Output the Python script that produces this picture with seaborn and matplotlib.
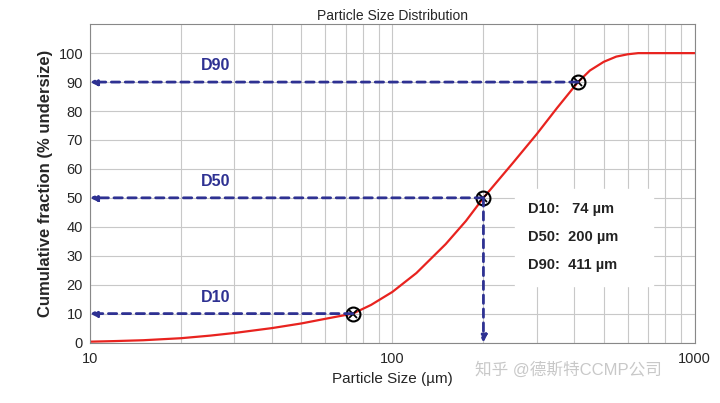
import numpy as np
import pandas as pd
import matplotlib
matplotlib.use("Agg")
import matplotlib.pyplot as plt
import seaborn as sns

# values
sizes = [10, 12, 15, 20, 25, 30, 40, 50, 60, 74, 85, 100, 120, 150, 175, 200, 250, 300,
         350, 411, 450, 500, 550, 600, 650, 700, 1000]
cumulative = [0.3, 0.5, 0.8, 1.5, 2.4, 3.3, 5.0, 6.6, 8.2, 10, 13, 17.5, 24, 34, 42, 50, 62, 72,
              81, 90, 94, 97, 98.8, 99.6, 100, 100, 100]
d_labels = ["D10", "D50", "D90"]
d_sizes = [74, 200, 411]
d_values = [10, 50, 90]

df = pd.DataFrame({"size": sizes, "cum": cumulative})

sns.set_style("white")
plt.rcParams['font.family'] = ['Liberation Sans', 'Noto Sans CJK SC', 'DejaVu Sans']
navy = "#2e3192"

fig, ax = plt.subplots(figsize=(7.2, 4.03), dpi=100)
fig.subplots_adjust(left=0.125, right=0.965, top=0.94, bottom=0.15)

sns.lineplot(data=df, x="size", y="cum", color="#e8231f", lw=1.6, ax=ax)
ax.set_xscale("log")
ax.set_xlim(10, 1000)
ax.set_ylim(0, 110)
ax.set_yticks(range(0, 101, 10))
ax.set_xticks([10, 100, 1000])
ax.set_xticklabels(["10", "100", "1000"])
ax.grid(True, which="both", color="#c8c8c8", lw=0.8)
ax.tick_params(labelsize=10.5, length=0)
ax.tick_params(axis="x", pad=7)
ax.tick_params(axis="y", pad=5)
for s in ax.spines.values():
    s.set_color("#888888")
ax.set_xlabel("Particle Size (µm)", fontsize=11)
ax.set_ylabel("Cumulative fraction (% undersize)", fontsize=12, fontweight="bold")
ax.set_title("Particle Size Distribution", fontsize=10, pad=3)

for lab, xs, yv in zip(d_labels, d_sizes, d_values):
    ax.annotate("", xy=(10, yv), xytext=(xs, yv),
                arrowprops=dict(arrowstyle="-|>", color=navy, lw=2, ls=(0, (3, 2)), shrinkA=0, shrinkB=0))
    ax.text(26, yv + 4, lab, color=navy, fontsize=11.5, fontweight="bold", ha="center")
    ax.plot(xs, yv, marker="o", ms=10, mfc="none", mec="black", mew=1.5)
    ax.plot(xs, yv, marker="x", ms=6, color="black", mew=1.3)
ax.annotate("", xy=(200, 0), xytext=(200, 50),
            arrowprops=dict(arrowstyle="-|>", color=navy, lw=2, ls=(0, (3, 2)), shrinkA=0, shrinkB=0))

box = "D10:   74 µm     \n\nD50:  200 µm     \n\nD90:  411 µm     "
ax.text(0.725, 0.44, box, transform=ax.transAxes, fontsize=10.5, fontweight="bold",
        color="#222222", va="top", linespacing=1.0,
        bbox=dict(facecolor="white", edgecolor="white", pad=10))

fig.text(0.79, 0.07, "知乎 @德斯特CCMP公司", fontsize=12, color="#bbbbbb", ha="center", alpha=0.8)

fig.savefig("out.png")
